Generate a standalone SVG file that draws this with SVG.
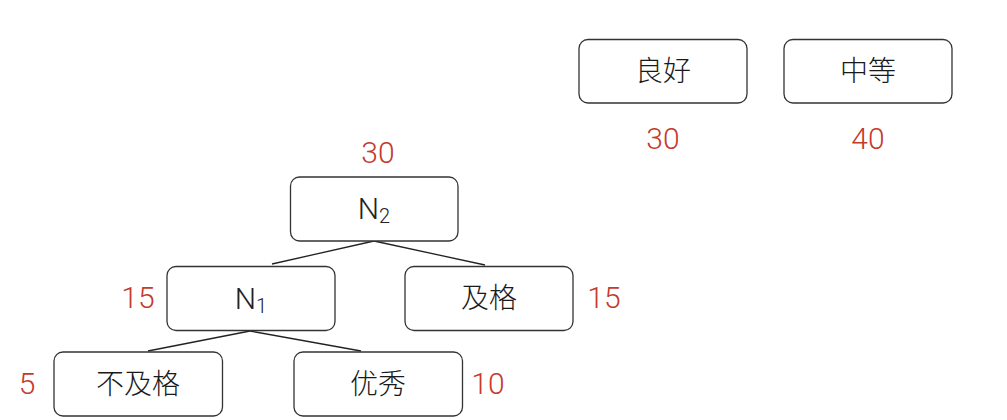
<svg xmlns="http://www.w3.org/2000/svg" width="1007" height="420" viewBox="0 0 1007 420">
<style>
.box{fill:#fff;stroke:#333;stroke-width:1.3}
.lbl{font-family:Roboto,"Noto Sans CJK SC",sans-serif;font-weight:300;font-size:30px;fill:#222;text-anchor:middle}
.cjk{font-family:"Noto Sans CJK SC",sans-serif;font-weight:300;font-size:28px;fill:#1a1a1a;text-anchor:middle}
.num{font-family:Roboto,"Liberation Sans",sans-serif;font-weight:300;font-size:30px;fill:#c43a2c;text-anchor:middle}
.edge{stroke:#222;stroke-width:1.3;fill:none}
</style>
<rect width="1007" height="420" fill="#fff"/>
<g id="connectors">
<line class="edge" x1="374" y1="241" x2="272" y2="264"/>
<line class="edge" x1="374" y1="241" x2="485" y2="265"/>
<line class="edge" x1="250" y1="331" x2="148" y2="351"/>
<line class="edge" x1="250" y1="331" x2="361" y2="351"/>
</g>
<g id="lianghao">
<rect class="box" x="579" y="39.5" width="168" height="63.5" rx="9"/>
<text class="cjk" x="663" y="81">良好</text>
<text class="num" x="663" y="149">30</text>
</g>
<g id="zhongdeng">
<rect class="box" x="784" y="39.5" width="168" height="63.5" rx="9"/>
<text class="cjk" x="868" y="81">中等</text>
<text class="num" x="868" y="149">40</text>
</g>
<g id="N2">
<rect class="box" x="290.5" y="177" width="167.5" height="64" rx="9"/>
<text class="lbl" x="374" y="219">N<tspan font-size="20" dy="4">2</tspan></text>
<text class="num" x="378" y="163">30</text>
</g>
<g id="N1">
<rect class="box" x="167" y="266.5" width="168" height="64" rx="9"/>
<text class="lbl" x="251" y="309">N<tspan font-size="20" dy="4">1</tspan></text>
<text class="num" x="138" y="308">15</text>
</g>
<g id="jige">
<rect class="box" x="405" y="266.5" width="168" height="64" rx="9"/>
<text class="cjk" x="489" y="308">及格</text>
<text class="num" x="604" y="308">15</text>
</g>
<g id="bujige">
<rect class="box" x="54" y="352" width="168.5" height="64" rx="9"/>
<text class="cjk" x="138" y="394">不及格</text>
<text class="num" x="27" y="394">5</text>
</g>
<g id="youxiu">
<rect class="box" x="294" y="352" width="168.5" height="64" rx="9"/>
<text class="cjk" x="378" y="394">优秀</text>
<text class="num" x="488" y="394">10</text>
</g>
</svg>
